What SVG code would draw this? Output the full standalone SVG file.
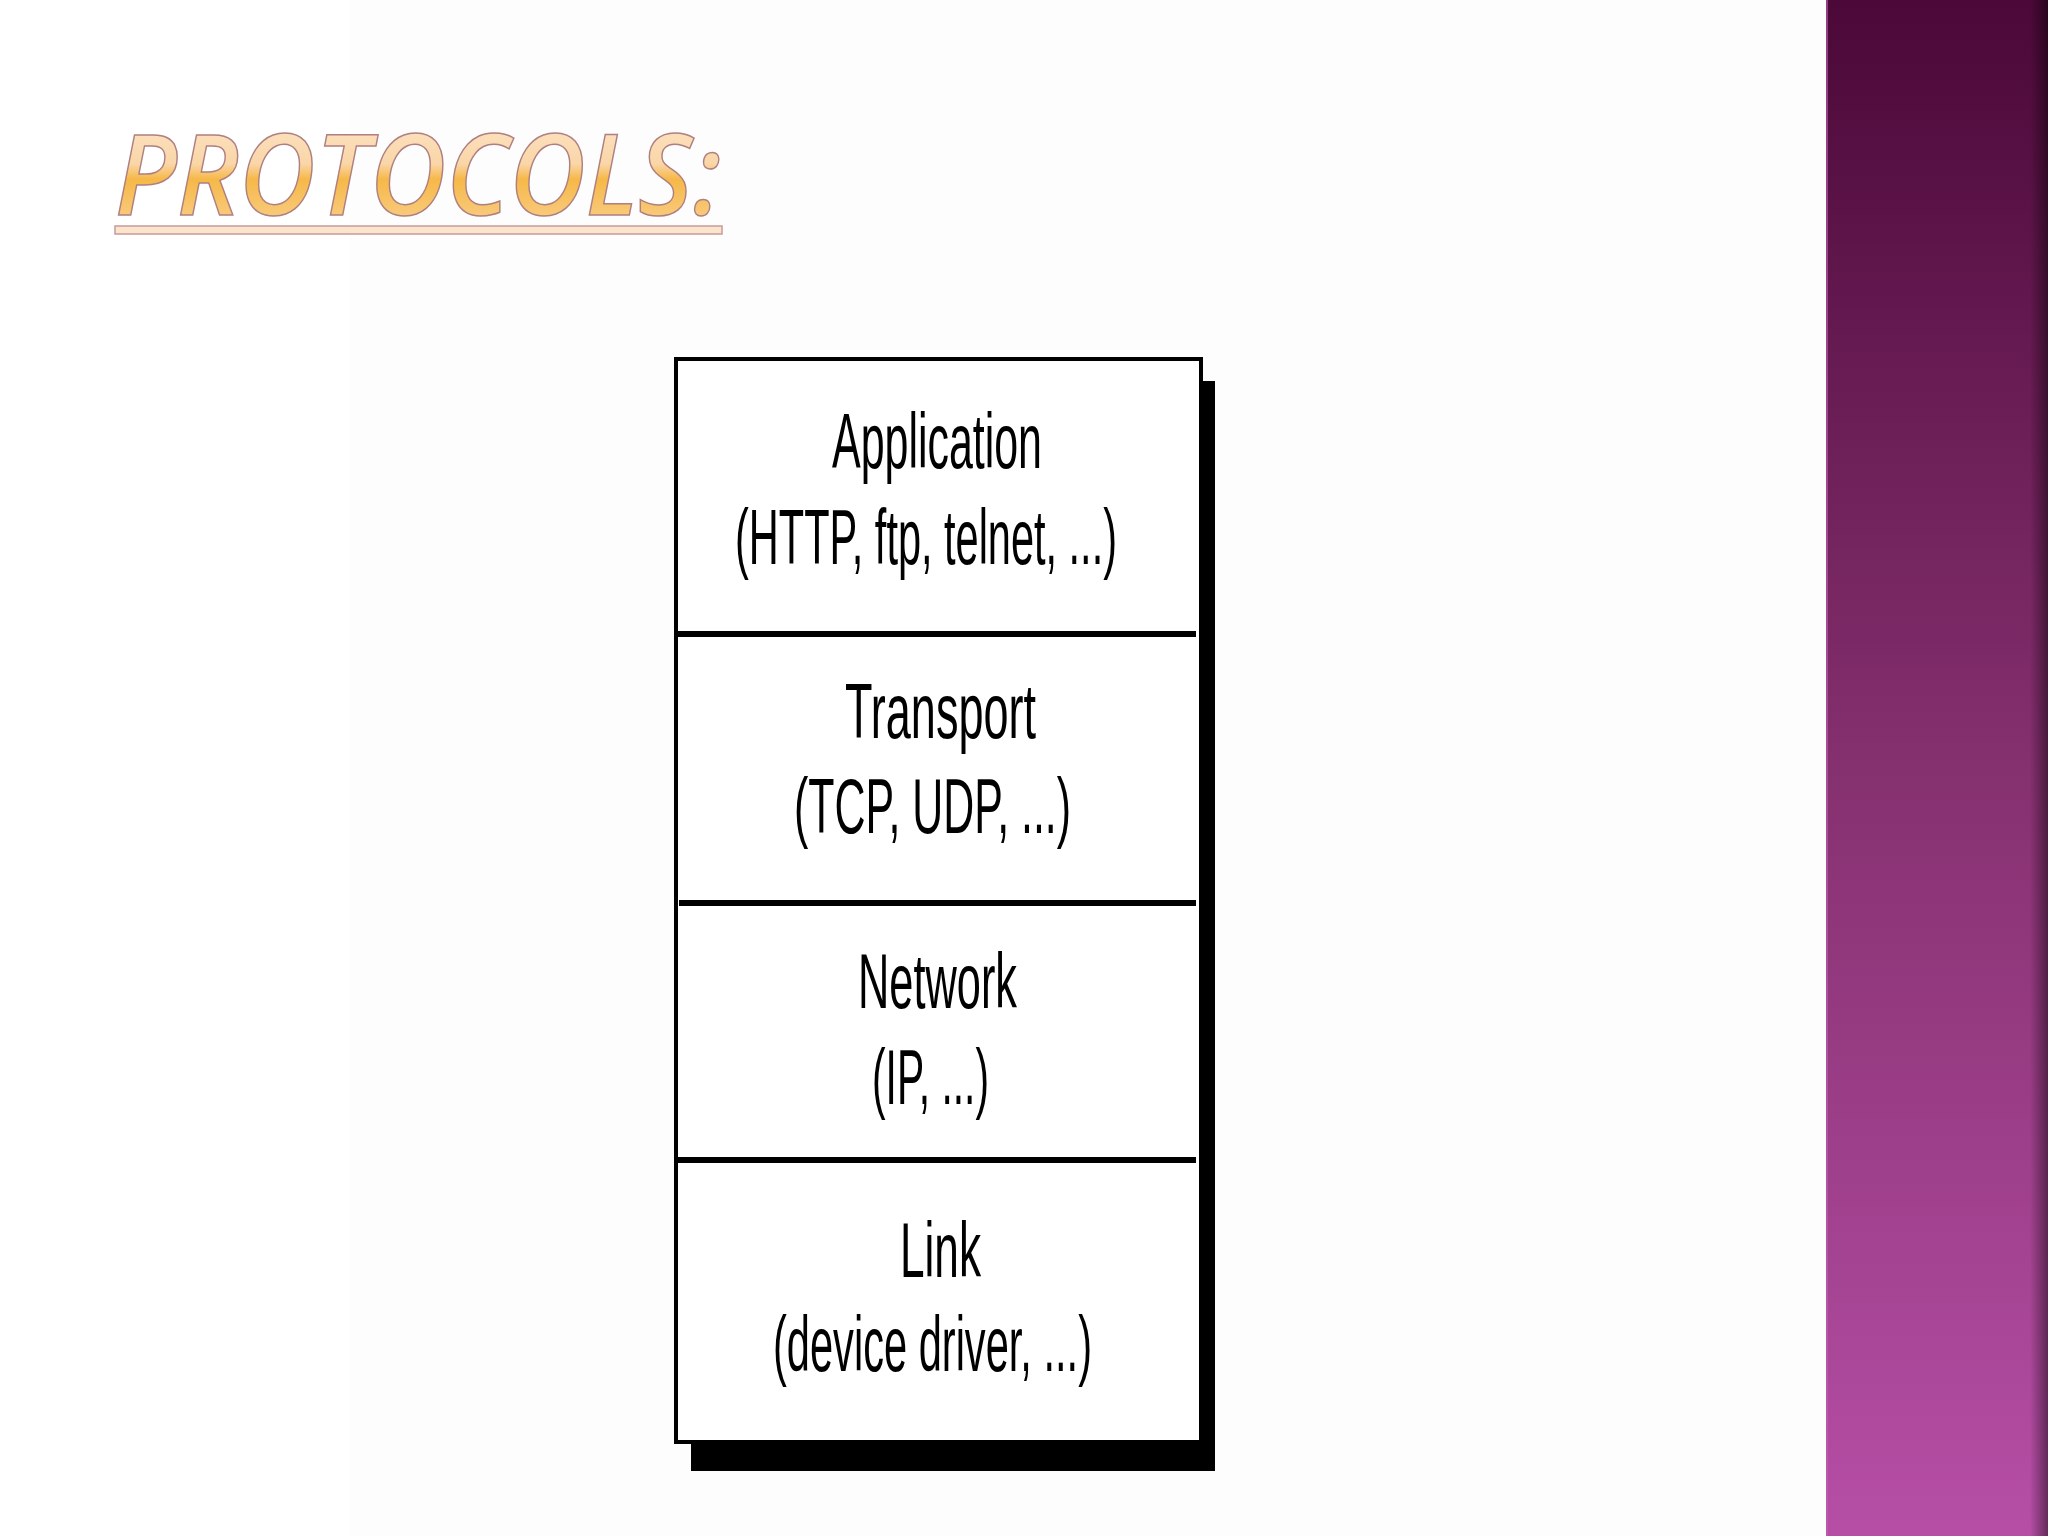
<svg xmlns="http://www.w3.org/2000/svg" width="2048" height="1536" viewBox="0 0 2048 1536">
<defs>
<linearGradient id="bar" x1="0" y1="0" x2="0" y2="1">
<stop offset="0" stop-color="#4B0838"/>
<stop offset="0.5" stop-color="#85306F"/>
<stop offset="1" stop-color="#B64EA6"/>
</linearGradient>
<linearGradient id="barEdge" x1="0" y1="0" x2="1" y2="0">
<stop offset="0" stop-color="#000" stop-opacity="0"/>
<stop offset="1" stop-color="#000" stop-opacity="0.45"/>
</linearGradient>
<linearGradient id="title" x1="0" y1="0" x2="0" y2="1">
<stop offset="0" stop-color="#FDE9D2"/>
<stop offset="0.45" stop-color="#FAD6A8"/>
<stop offset="0.55" stop-color="#F6B848"/>
<stop offset="1" stop-color="#FBD9A6"/>
</linearGradient>
<style>
.lbl{font-family:"Liberation Sans",Arial,sans-serif;font-size:78px;fill:#000}
.div{stroke:#000;stroke-width:6}
</style>
</defs>
<rect width="2048" height="1536" fill="#FDFDFD"/>
<rect x="0" y="0" width="350" height="1536" fill="#FFFFFF"/>
<g id="sidebar">
<rect x="1826" y="0" width="222" height="1536" fill="url(#bar)"/>
<rect x="2030" y="0" width="18" height="1536" fill="url(#barEdge)"/>
<rect x="1826" y="0" width="2" height="1536" fill="#C060B0" opacity="0.6"/>
</g>
<g id="title">
<text x="115" y="215" font-family="'Open Sans',sans-serif" font-style="italic" font-weight="600" font-size="112" textLength="606" lengthAdjust="spacingAndGlyphs" fill="url(#title)" stroke="#B08080" stroke-width="1.5">PROTOCOLS:</text>
<rect x="115" y="226" width="607" height="8" fill="#FCE4CC" stroke="#C49C9C" stroke-width="1.5"/>
</g>
<g id="stack">
<rect x="691" y="381" width="524" height="1090" fill="#000"/>
<rect x="676" y="359" width="525" height="1083" fill="#FFF" stroke="#000" stroke-width="4"/>
</g>
<g id="connectors">
<line class="div" x1="674" y1="634" x2="1196" y2="634"/>
<line class="div" x1="679" y1="903" x2="1196" y2="903"/>
<line class="div" x1="674" y1="1160" x2="1196" y2="1160"/>
</g>
<g id="application">
<text class="lbl" x="832" y="468" textLength="210" lengthAdjust="spacingAndGlyphs">Application</text>
<text class="lbl" x="735" y="564" textLength="382" lengthAdjust="spacingAndGlyphs">(HTTP, ftp, telnet, ...)</text>
</g>
<g id="transport">
<text class="lbl" x="845" y="738" textLength="191" lengthAdjust="spacingAndGlyphs">Transport</text>
<text class="lbl" x="794" y="833" textLength="277" lengthAdjust="spacingAndGlyphs">(TCP, UDP, ...)</text>
</g>
<g id="network">
<text class="lbl" x="858" y="1008" textLength="159" lengthAdjust="spacingAndGlyphs">Network</text>
<text class="lbl" x="872" y="1104" textLength="117" lengthAdjust="spacingAndGlyphs">(IP, ...)</text>
</g>
<g id="link">
<text class="lbl" x="900" y="1277" textLength="81" lengthAdjust="spacingAndGlyphs">Link</text>
<text class="lbl" x="773" y="1371" textLength="319" lengthAdjust="spacingAndGlyphs">(device driver, ...)</text>
</g>
</svg>
